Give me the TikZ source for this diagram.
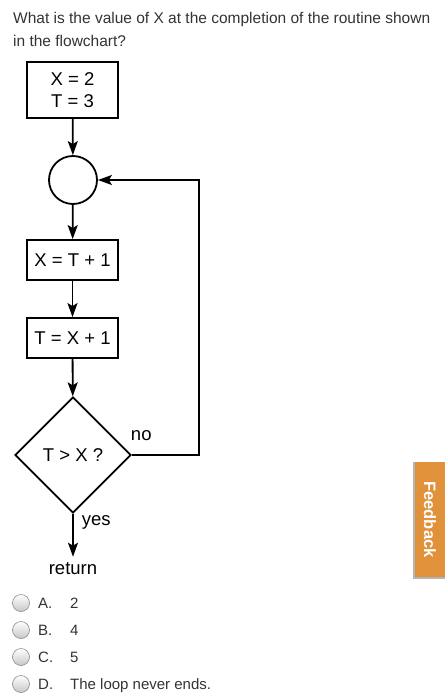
\documentclass[tikz,border=0pt]{standalone}
\usepackage{fontspec}
\setmainfont{Liberation Sans}
\usepackage{tikz}
\usetikzlibrary{
arrows.meta,
positioning,
shapes.geometric
}
\definecolor{qgray}{HTML}{333333}
\definecolor{fborange}{HTML}{E0913A}
\definecolor{fbshadow}{HTML}{B4B4B4}
\definecolor{radioedge}{HTML}{8A8A8A}

\begin{document}
\begin{tikzpicture}[x=1pt, y=-1pt,
  box/.style={draw, line width=1.8pt, minimum width=91pt, minimum height=40pt,
              inner sep=0pt, align=center, font=\fontsize{18.5}{22}\selectfont},
  joint/.style={draw, circle, line width=1.8pt, minimum size=48pt, inner sep=0pt},
  decision/.style={draw, diamond, aspect=1, line width=1.8pt, minimum width=116pt,
                   minimum height=116pt, inner sep=0pt, font=\fontsize{18.5}{22}\selectfont},
  lbl/.style={font=\fontsize{18.5}{22}\selectfont, inner sep=1pt},
  arrow/.style={-{Stealth[length=14pt, width=10pt, inset=3pt]}, line width=1.8pt},
  question/.style={anchor=base west, inner sep=0pt, text=qgray, font=\fontsize{15.5}{20}\selectfont},
  radio/.style={circle, draw=radioedge, line width=0.6pt, minimum size=17pt, inner sep=0pt,
                top color=white, bottom color=black!22},
  answer/.style={anchor=base west, inner sep=0pt, text=qgray, font=\fontsize{15}{19}\selectfont}
]
\useasboundingbox (0,0) rectangle (445,700);

%% Question
\node[question] (q1) at (13,23.5)
  {What is the value of X at the completion of the routine shown};
\node[question] (q2) at (13,47) {in the flowchart?};

%% Flowchart
\node[box, minimum height=56pt] (init) at (72.5,90) {X = 2\\T = 3};
\node[joint] (loop) at (73,180) {};
\node[box] (setx) at (72.5,260) {X = T + 1};
\node[box] (sett) at (72.5,338) {T = X + 1};
\node[decision] (test) at (73,455) {T > X ?};
\node[lbl, inner ysep=6pt] (ret) at (73,569) {return};

\draw[arrow] (init) -- (loop);
\draw[arrow] (loop) -- (setx);
\draw[arrow] (setx) -- (sett);
\draw[arrow] (sett) -- (test);
\draw[arrow] (test) -- node[lbl, pos=0.2, right=7pt] {yes} (ret);
\draw[arrow] (test.east) -- node[lbl, pos=0.14, above=12pt] {no} ++(67,0) |- (loop.east);

%% Feedback tab
\fill[fbshadow] (413,462) rectangle (445,579);
\node[fill=fborange, rotate=-90, minimum width=115pt, minimum height=30pt, inner sep=0pt,
      text=white, font=\bfseries\fontsize{16.5}{20}\selectfont] (feedback) at (430,519.5)
  {Feedback};

%% Answers
\foreach \ly/\opt/\ans in {603/A/2, 630/B/4, 657/C/5, 684/D/The loop never ends.}{
  \node[radio] (radio\opt) at (21,\ly) {};
  \node[answer] (key\opt) at (38,\ly+5.4) {\opt.};
  \node[answer] (ans\opt) at (70,\ly+5.4) {\ans};
}
\end{tikzpicture}
\end{document}
